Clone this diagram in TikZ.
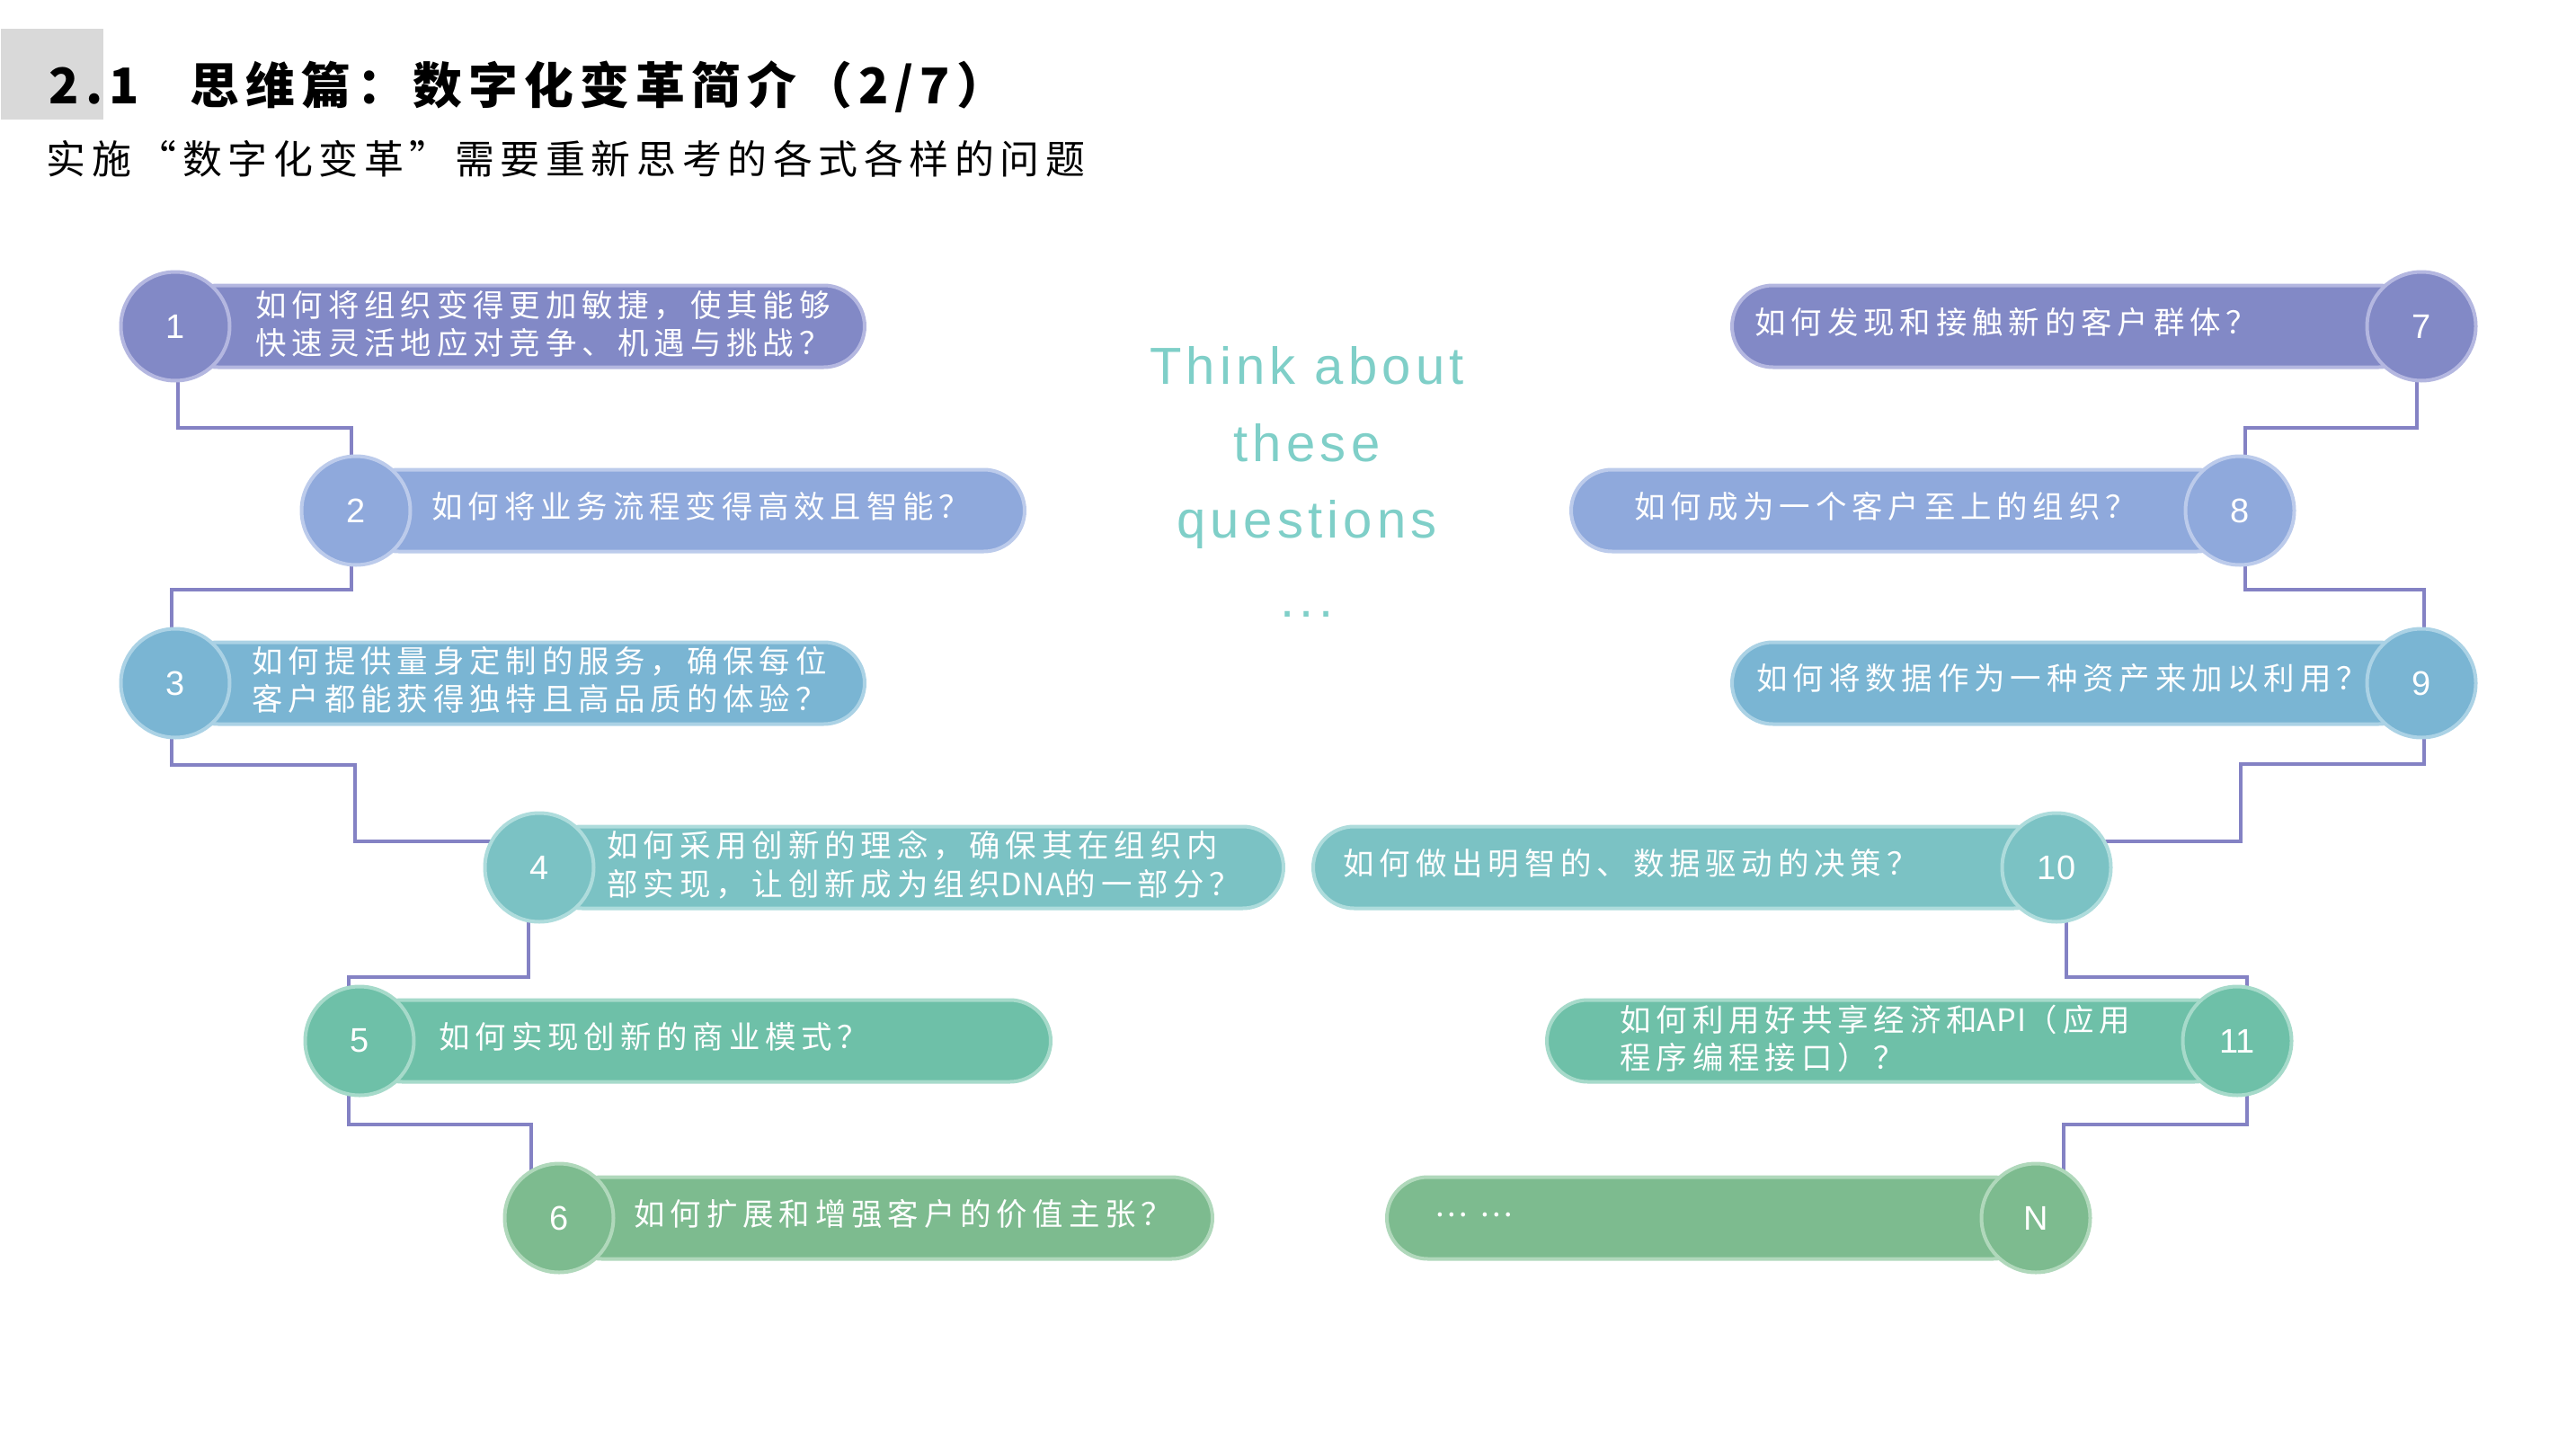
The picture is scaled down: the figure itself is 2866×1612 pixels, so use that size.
\documentclass[tikz,border=0pt]{standalone}
\usepackage{fontspec}
\setmainfont{Liberation Sans}
\newfontfamily\cjk{Noto Sans CJK SC}[LetterSpace=17]
\newfontfamily\cjktight{Noto Sans CJK SC}[LetterSpace=3]
\newfontfamily\cjksub{Noto Sans CJK SC}[LetterSpace=15]
\newfontfamily\cjktitle{Noto Sans CJK SC}[LetterSpace=13]
\newfontfamily\thinkfont{Liberation Sans}[LetterSpace=9]
\newfontfamily\numfont{Liberation Sans}
\usetikzlibrary{backgrounds}
\definecolor{fa}{HTML}{8289C6}\definecolor{ba}{HTML}{B4B7E0}
\definecolor{fb}{HTML}{8FA9DC}\definecolor{bb}{HTML}{BCCBEB}
\definecolor{fc}{HTML}{7AB5D3}\definecolor{bc}{HTML}{ABD2E5}
\definecolor{fd}{HTML}{7BC2C4}\definecolor{bd}{HTML}{AEDCDC}
\definecolor{fe}{HTML}{6EC0A8}\definecolor{be}{HTML}{A6DACA}
\definecolor{ff}{HTML}{7DBB8F}\definecolor{bf}{HTML}{B0D8BB}
\definecolor{connc}{HTML}{8482C4}
\definecolor{thinkc}{HTML}{7FCFC8}
\definecolor{greyc}{HTML}{D9D9D9}
\tikzset{
  rowa/.style={fill=fa,draw=ba}, rowb/.style={fill=fb,draw=bb},
  rowc/.style={fill=fc,draw=bc}, rowd/.style={fill=fd,draw=bd},
  rowe/.style={fill=fe,draw=be}, rowf/.style={fill=ff,draw=bf},
  pill/.style={rectangle, rounded corners=4.55mm, minimum height=9.1mm, line width=0.4mm, inner sep=0},
  circ/.style={circle, minimum size=12.1mm, inner sep=0, line width=0.4mm, text=white,
               font=\numfont\fontsize{10.8}{13}\selectfont},
  txt/.style={text=white, anchor=west, align=left, inner sep=0, font=\cjk\fontsize{9.8}{12}\selectfont},
  think/.style={anchor=base, text=thinkc, inner sep=0, font=\thinkfont\fontsize{16.5}{20}\selectfont},
  conn/.style={draw=connc, line width=0.35mm}
}
\begin{document}
\begin{tikzpicture}[x=0.1mm,y=-0.1mm]
\useasboundingbox (0,0) rectangle (2866,1612);
% header
\node[fill=greyc, minimum width=11.4mm, minimum height=10.1mm, anchor=north west, inner sep=0] (sq) at (0,31) {};
\node[anchor=base west, inner sep=0, font=\cjktitle\bfseries\fontsize{15.6}{19}\selectfont] (tt1) at (54,115) {2.1};
\node[anchor=base west, inner sep=0, font=\cjktitle\bfseries\fontsize{15.6}{19}\selectfont] (tt2) at (211,115) {思维篇：数字化变革简介（2/7）};
\node[anchor=base west, inner sep=0, font=\cjksub\fontsize{12.5}{15}\selectfont] (sub) at (51,193) {实施“数字化变革”需要重新思考的各式各样的问题};
% centre text
\node[think] (th1) at (1454,427) {Think about};
\node[think] (th2) at (1454,513) {these};
\node[think] (th3) at (1454,598) {questions};
\node[think] (th4) at (1454,686) {...};
% left column
\node[pill,rowa,anchor=west,minimum width=76.5mm] (p1) at (195,363) {};
\node[circ,rowa] (c1) at (195,363) {1};
\node[txt] (t1) at (284,360) {如何将组织变得更加敏捷，使其能够\\快速灵活地应对竞争、机遇与挑战？};
\node[pill,rowb,anchor=west,minimum width=74.2mm] (p2) at (396,568) {};
\node[circ,rowb] (c2) at (396,568) {2};
\node[txt] (t2) at (480,563) {如何将业务流程变得高效且智能？};
\node[pill,rowc,anchor=west,minimum width=76.5mm] (p3) at (195,760) {};
\node[circ,rowc] (c3) at (195,760) {3};
\node[txt] (t3) at (280,756) {如何提供量身定制的服务，确保每位\\客户都能获得独特且高品质的体验？};
\node[pill,rowd,anchor=west,minimum width=82.6mm] (p4) at (600,965) {};
\node[circ,rowd] (c4) at (600,965) {4};
\node[txt] (t4) at (675,962) {如何采用创新的理念，确保其在组织内\\部实现，让创新成为组织{\cjktight DNA}的一部分？};
\node[pill,rowe,anchor=west,minimum width=76.7mm] (p5) at (400,1158) {};
\node[circ,rowe] (c5) at (400,1158) {5};
\node[txt] (t5) at (488,1153) {如何实现创新的商业模式？};
\node[pill,rowf,anchor=west,minimum width=72.5mm] (p6) at (622,1355) {};
\node[circ,rowf] (c6) at (622,1355) {6};
\node[txt] (t6) at (705,1350) {如何扩展和增强客户的价值主张？};
% right column
\node[pill,rowa,anchor=east,minimum width=76.5mm] (p7) at (2694,363) {};
\node[circ,rowa] (c7) at (2694,363) {7};
\node[txt] (t7) at (1952,358) {如何发现和接触新的客户群体？};
\node[pill,rowb,anchor=east,minimum width=74.2mm] (p8) at (2492,568) {};
\node[circ,rowb] (c8) at (2492,568) {8};
\node[txt] (t8) at (1818,563) {如何成为一个客户至上的组织？};
\node[pill,rowc,anchor=east,minimum width=76.5mm] (p9) at (2694,760) {};
\node[circ,rowc] (c9) at (2694,760) {9};
\node[txt] (t9) at (1954,755) {如何将数据作为一种资产来加以利用？};
\node[pill,rowd,anchor=east,minimum width=82.5mm] (p10) at (2288,965) {};
\node[circ,rowd] (c10) at (2288,965) {10};
\node[txt] (t10) at (1494,960) {如何做出明智的、数据驱动的决策？};
\node[pill,rowe,anchor=east,minimum width=76.6mm] (p11) at (2489,1158) {};
\node[circ,rowe] (c11) at (2489,1158) {11};
\node[txt] (t11) at (1802,1155) {如何利用好共享经济和{\cjktight API}（应用\\程序编程接口）？};
\node[pill,rowf,anchor=east,minimum width=72.0mm] (p12) at (2265,1355) {};
\node[circ,rowf] (c12) at (2265,1355) {N};
\node[txt] (t12) at (1596,1352) {… …};
% connectors
\begin{pgfonlayer}{background}
\fill[white] (0,0) rectangle (2866,1612);
\draw[conn] ([xshift=.3mm]c1.center) -- ++(0,-11.3mm) -| ([xshift=-.5mm]c2.center);
\draw[conn] ([xshift=-.5mm]c2.center) -- ++(0,-8.8mm) -| ([xshift=-.4mm]c3.center);
\draw[conn] ([xshift=-.4mm]c3.center) -- ++(0,-9.1mm) -| ([xshift=-20.5mm,yshift=2.9mm]c4.center) -- ([yshift=2.9mm]c4.center);
\draw[conn] ([xshift=-1.2mm]c4.center) -- ++(0,-12.2mm) -| ([xshift=-1.2mm]c5.center);
\draw[conn] ([xshift=-1.2mm]c5.center) -- ++(0,-9.3mm) -| ([xshift=-3.1mm]c6.center);
\draw[conn] ([xshift=-.5mm]c7.center) -- ++(0,-11.3mm) -| ([xshift=.6mm]c8.center);
\draw[conn] ([xshift=.6mm]c8.center) -- ++(0,-8.8mm) -| ([xshift=.3mm]c9.center);
\draw[conn] ([xshift=.3mm]c9.center) -- ++(0,-9.0mm) -| ([xshift=20.5mm,yshift=2.9mm]c10.center) -- ([yshift=2.9mm]c10.center);
\draw[conn] ([xshift=1.1mm]c10.center) -- ++(0,-12.2mm) -| ([xshift=1.1mm]c11.center);
\draw[conn] ([xshift=1.1mm]c11.center) -- ++(0,-9.3mm) -| ([xshift=3.1mm]c12.center);
\end{pgfonlayer}
\end{tikzpicture}
\end{document}
